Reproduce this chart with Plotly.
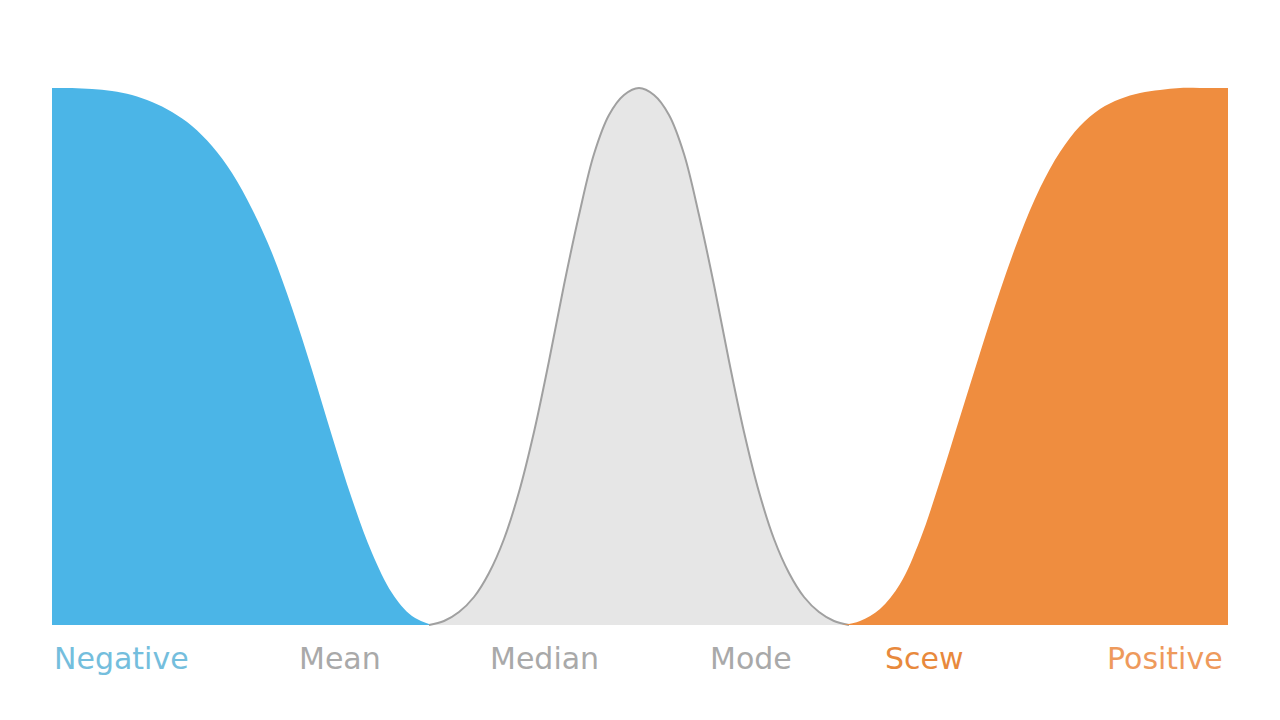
import plotly.graph_objects as go

# curve heights above the baseline (pixel-like units)
neg_x = [52, 72, 92, 112, 132, 152, 172, 192, 212, 232, 252, 272, 292,
         312, 332, 352, 372, 392, 412, 432]
neg_y = [537, 537, 536, 534, 530, 523, 513, 499, 479, 452, 416, 372, 317,
         255, 189, 126, 72, 32, 9, 0]

mid_x = [429, 444, 459, 474, 489, 504, 519, 534, 549, 564, 579, 594, 609, 624, 639,
         654, 669, 684, 699, 714, 729, 744, 759, 774, 789, 804, 819, 834, 849]
mid_y = [0, 4, 13, 28, 52, 86, 133, 193, 264, 340, 410, 471, 510, 530, 537,
         530, 510, 471, 410, 340, 264, 193, 133, 86, 52, 28, 13, 4, 0]

pos_x = [842, 860, 880, 900, 920, 940, 960, 980, 1000, 1020, 1040, 1060,
         1080, 1100, 1120, 1140, 1160, 1180, 1200, 1228]
pos_y = [0, 4, 16, 41, 85, 144, 208, 272, 334, 390, 437, 473,
         499, 516, 526, 532, 535, 537, 537, 537]

labels = ["Negative", "Mean", "Median", "Mode", "Scew", "Positive"]
label_x = [52, 340, 544, 751, 924, 1225]
label_anchor = ["left", "center", "center", "center", "center", "right"]
label_colors = ["#74BEDD", "#A9A9A9", "#A9A9A9", "#A9A9A9", "#E8893C", "#EE9A5C"]

fig = go.Figure()

fig.add_trace(go.Scatter(
    x=neg_x, y=neg_y, mode="lines", fill="tozeroy",
    line=dict(color="#4BB5E7", width=0, shape="spline", smoothing=1),
    fillcolor="#4BB5E7", hoverinfo="skip"))

fig.add_trace(go.Scatter(
    x=mid_x, y=mid_y, mode="lines", fill="tozeroy",
    line=dict(color="#A0A0A0", width=2, shape="spline", smoothing=1),
    fillcolor="#E6E6E6", hoverinfo="skip"))

fig.add_trace(go.Scatter(
    x=pos_x, y=pos_y, mode="lines", fill="tozeroy",
    line=dict(color="#EF8D3F", width=0, shape="spline", smoothing=1),
    fillcolor="#EF8D3F", hoverinfo="skip"))

for txt, xx, anc, col in zip(labels, label_x, label_anchor, label_colors):
    fig.add_annotation(x=xx, y=-33, xref="x", yref="y", text=txt,
                       showarrow=False, xanchor=anc, yanchor="middle",
                       font=dict(family="DejaVu Sans", size=30, color=col))

# page body has an 8px margin, so the ranges are shifted to keep pixel positions
fig.update_layout(
    width=1280, height=720,
    margin=dict(l=0, r=0, t=0, b=0),
    paper_bgcolor="white", plot_bgcolor="white",
    showlegend=False,
    xaxis=dict(range=[8, 1288], visible=False, fixedrange=True),
    yaxis=dict(range=[-103, 617], visible=False, fixedrange=True),
)

fig.write_html("out.html")
